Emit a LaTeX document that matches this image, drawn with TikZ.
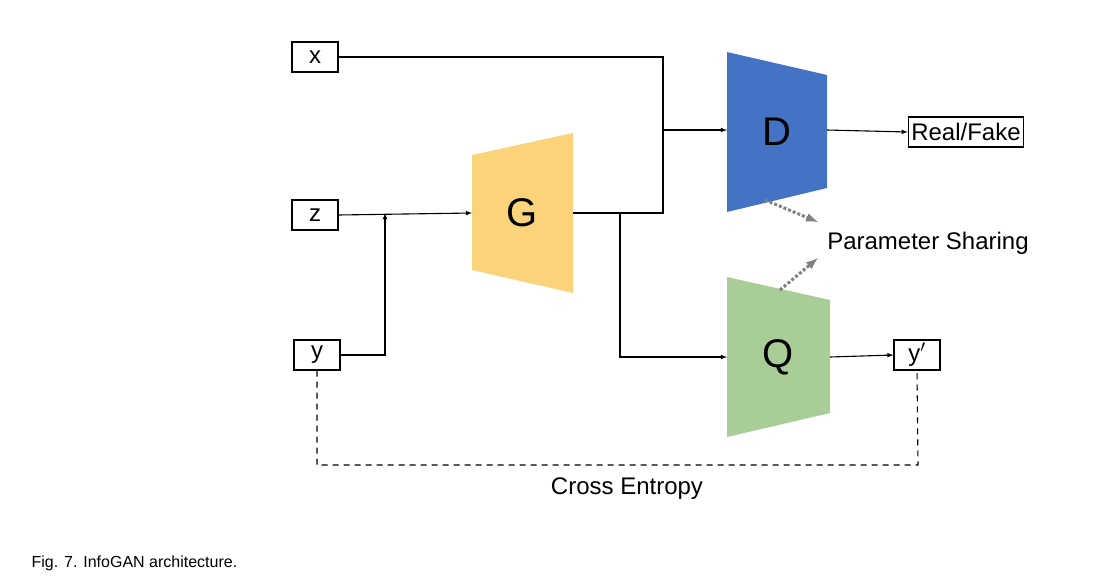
\documentclass[tikz,border=0pt]{standalone}
\usepackage{fontspec}
\setmainfont{Liberation Sans}
\begin{document}
\begin{tikzpicture}[x=1pt,y=-1pt,
  box/.style={draw,line width=1.2pt,minimum height=30pt,inner sep=3pt,font=\fontsize{24}{24}\selectfont},
  conn/.style={line width=1.1pt,-latex},
  line/.style={line width=1.1pt},
  share/.style={gray,line width=3pt,dotted,-latex}]
\useasboundingbox (0,0) rectangle (1109,584);
\node[box,minimum width=46pt] (x) at (315,57) {x};
\node[box,minimum width=46pt] (z) at (315,215) {z};
\node[box,minimum width=46pt,font=\fontsize{24}{24}\selectfont\rmfamily] (y) at (317,355) {y};
\node[box,minimum width=46pt,font=\fontsize{24}{24}\selectfont\rmfamily] (yp) at (917,355) {y$'$};
\node[box] (rf) at (966,132) {Real/Fake};
\fill[fill={rgb,255:red,250;green,211;blue,122}] (472,155) -- (573,133) -- (573,293) -- (472,270) -- cycle;
\node[font=\fontsize{40}{40}\selectfont] (G) at (522,213) {G};
\fill[fill={rgb,255:red,68;green,114;blue,196}] (727,52) -- (827,75) -- (827,188) -- (727,212) -- cycle;
\node[font=\fontsize{40}{40}\selectfont] (D) at (777,132) {D};
\fill[fill={rgb,255:red,169;green,205;blue,150}] (727,277) -- (830,300) -- (830,413) -- (727,437) -- cycle;
\node[font=\fontsize{40}{40}\selectfont] (Q) at (778,357) {Q};
\coordinate (Dl) at (727,130);
\coordinate (Dr) at (827,130);
\coordinate (Gl) at (472,213);
\coordinate (Gr) at (573,213);
\coordinate (Ql) at (727,357);
\coordinate (Qr) at (830,357);
\draw[line] (x.east) -- (663,57) -- (663,130);
\draw[conn] (663,130) -- (Dl);
\draw[line] (Gr) -- (663,213) -- (663,130);
\draw[conn] (620,213) -- (620,357) -- (Ql);
\draw[conn] (Dr) -- (rf.west);
\draw[conn] (Qr) -- (yp.west);
\draw[conn] (z.east) -- (Gl);
\draw[conn] (y.east) -- (385,355) -- (385,213);
\draw[line,dash pattern=on 6pt off 5pt] (y.south) -- (317,465) -- (918,465) -- (yp.south);
\node[font=\fontsize{24}{24}\selectfont] (ce) at (627,489) {Cross Entropy};
\node[font=\fontsize{24}{24}\selectfont] (ps) at (928,243) {Parameter Sharing};
\draw[share] (765,200) -- (818,222);
\draw[share] (780,290) -- (818,258);
\node[anchor=west,font=\fontsize{16}{16}\selectfont] (cap) at (28,563) {Fig. 7. InfoGAN architecture.};
\end{tikzpicture}
\end{document}
